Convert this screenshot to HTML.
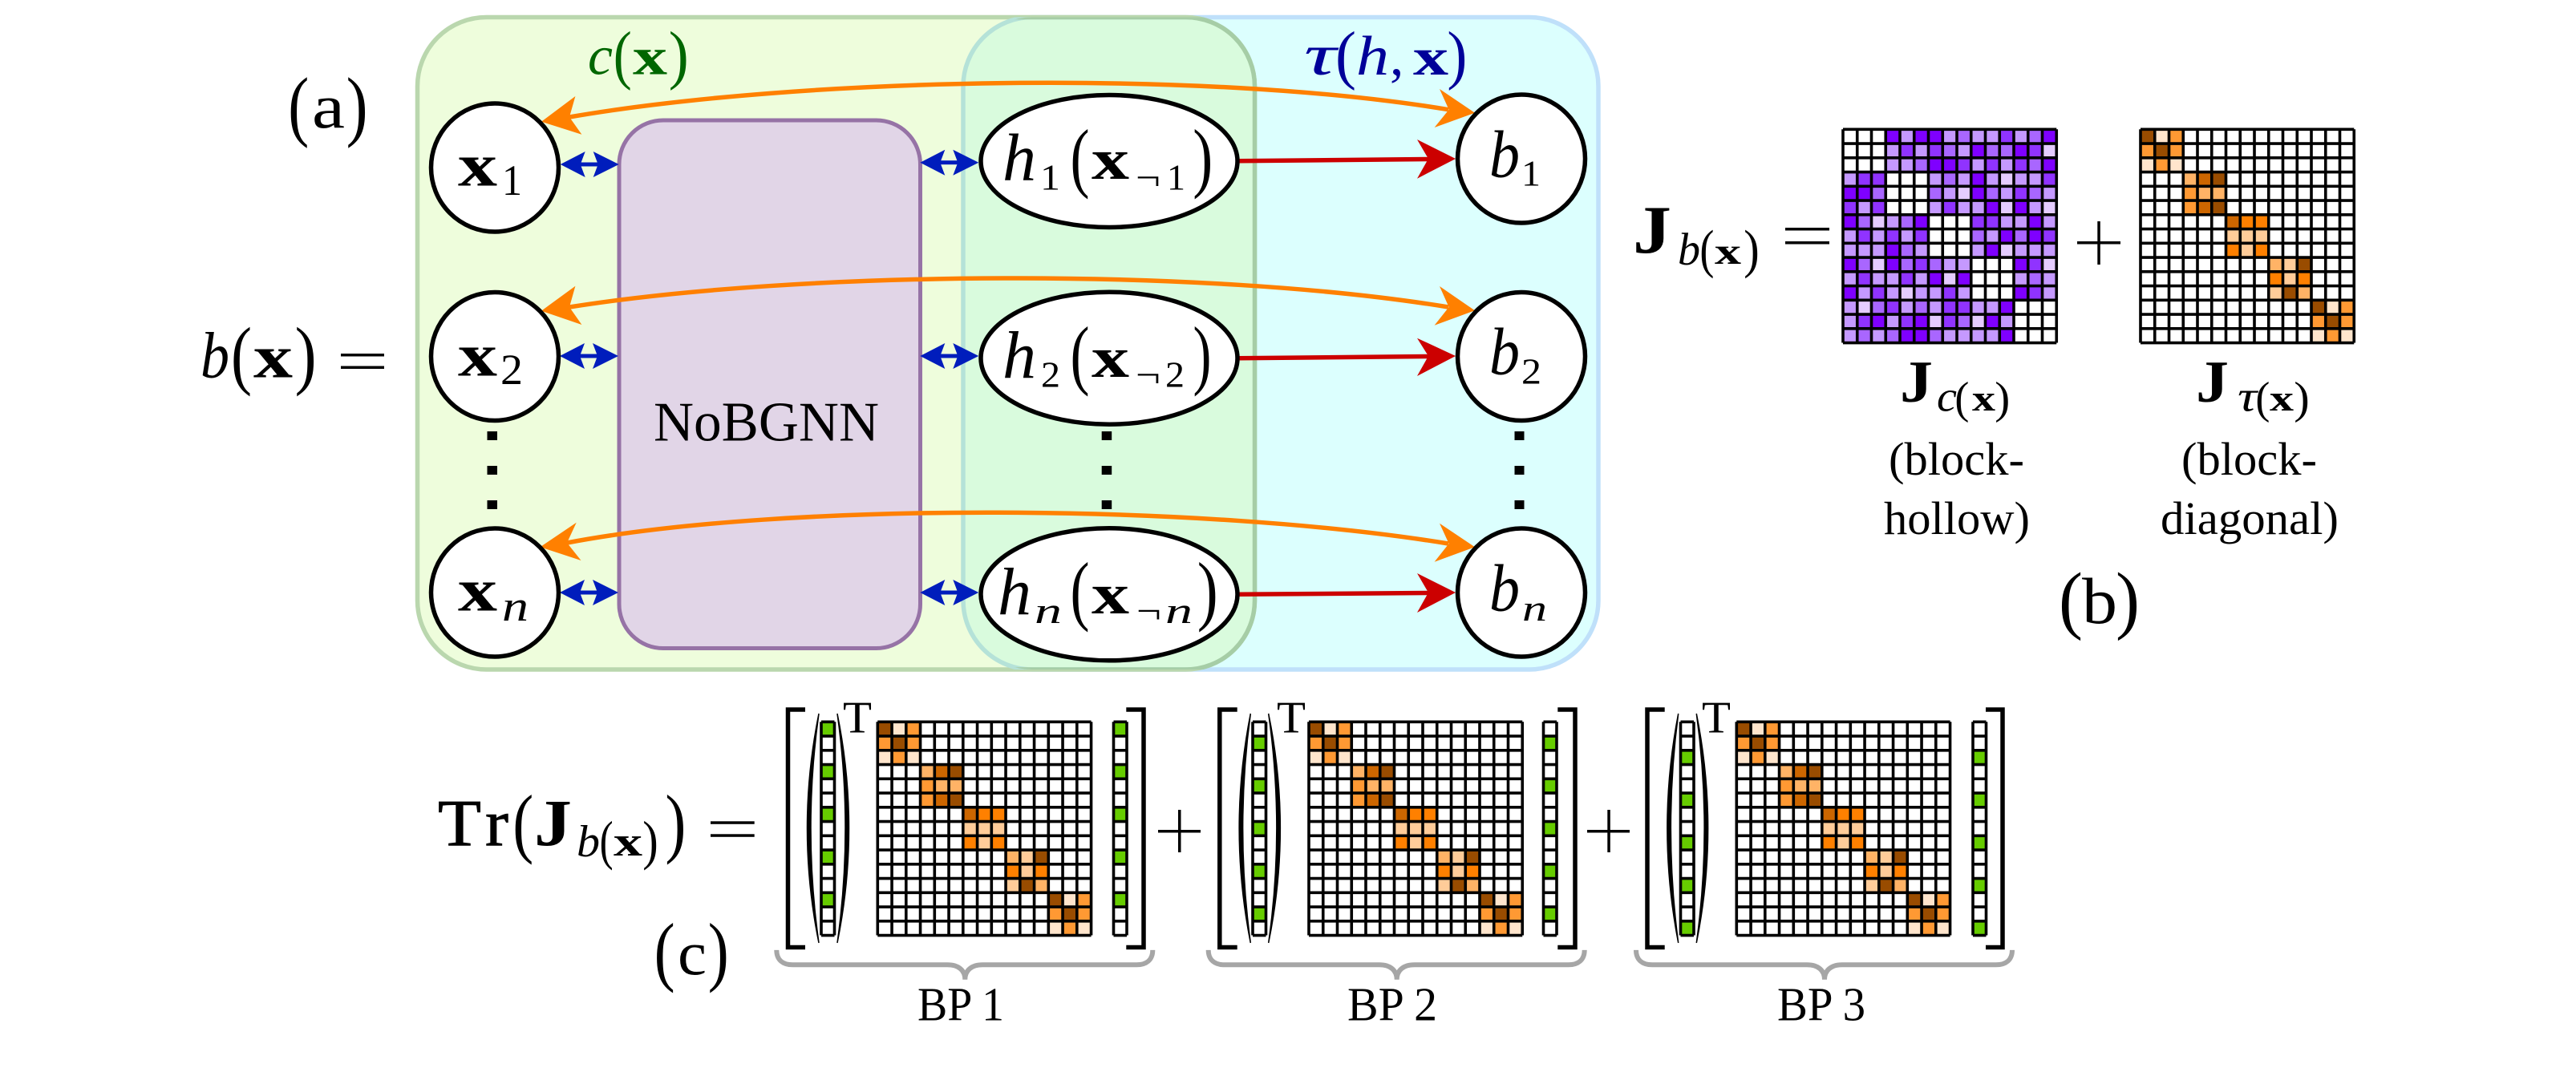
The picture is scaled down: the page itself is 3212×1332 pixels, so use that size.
<!DOCTYPE html>
<html>
<head>
<meta charset="utf-8">
<style>
html,body{margin:0;padding:0;background:#fff}
svg{display:block}
text{font-family:"Liberation Serif",serif;fill:#000}
.i{font-style:italic}
.b{font-weight:bold}
.h{stroke:#000;stroke-width:.9}
.g text{fill:#006600}
.t text{fill:#000099}
.cell rect{width:1px;height:1px}
.p1{fill:#7F00FF}.p2{fill:#9033FF}.p3{fill:#A966FF}.p4{fill:#C599FF}.p5{fill:#E5CCFF}
.A{fill:#994C00}.B{fill:#CC6600}.C{fill:#FF8000}.D{fill:#FF9933}.E{fill:#FFB366}.F{fill:#FFCC99}.G{fill:#FFE5CC}
.v{fill:#66CC00}
.gl{fill:none;stroke:#000;stroke-width:3.6;vector-effect:non-scaling-stroke}
</style>
</head>
<body>
<svg width="3212" height="1332" viewBox="0 0 3212 1332" xmlns="http://www.w3.org/2000/svg">
<defs>
<clipPath id="cb"><rect x="1201" y="21.5" width="792" height="813.5" rx="86"/></clipPath>
<clipPath id="cg"><rect x="520.5" y="21.5" width="1044" height="813.5" rx="86"/></clipPath>
<path id="grid" class="gl" d="M0 0H15M0 1H15M0 2H15M0 3H15M0 4H15M0 5H15M0 6H15M0 7H15M0 8H15M0 9H15M0 10H15M0 11H15M0 12H15M0 13H15M0 14H15M0 15H15M0 0V15M1 0V15M2 0V15M3 0V15M4 0V15M5 0V15M6 0V15M7 0V15M8 0V15M9 0V15M10 0V15M11 0V15M12 0V15M13 0V15M14 0V15M15 0V15"/>
<path id="vgrid" class="gl" d="M0 0H1M0 1H1M0 2H1M0 3H1M0 4H1M0 5H1M0 6H1M0 7H1M0 8H1M0 9H1M0 10H1M0 11H1M0 12H1M0 13H1M0 14H1M0 15H1M0 0V15M1 0V15"/>
<g id="om">
<g transform="scale(17.75)">
<rect width="15" height="15" fill="#fff"/>
<g class="cell">
<rect class="A" x="0" y="0"/><rect class="G" x="1" y="0"/><rect class="D" x="2" y="0"/>
<rect class="D" x="0" y="1"/><rect class="A" x="1" y="1"/><rect class="D" x="2" y="1"/>
<rect class="G" x="0" y="2"/><rect class="D" x="1" y="2"/><rect class="G" x="2" y="2"/>
<rect class="E" x="3" y="3"/><rect class="B" x="4" y="3"/><rect class="A" x="5" y="3"/>
<rect class="D" x="3" y="4"/><rect class="E" x="4" y="4"/><rect class="E" x="5" y="4"/>
<rect class="D" x="3" y="5"/><rect class="B" x="4" y="5"/><rect class="A" x="5" y="5"/>
<rect class="B" x="6" y="6"/><rect class="C" x="7" y="6"/><rect class="C" x="8" y="6"/>
<rect class="F" x="6" y="7"/><rect class="F" x="7" y="7"/><rect class="F" x="8" y="7"/>
<rect class="C" x="6" y="8"/><rect class="F" x="7" y="8"/><rect class="C" x="8" y="8"/>
<rect class="E" x="9" y="9"/><rect class="F" x="10" y="9"/><rect class="A" x="11" y="9"/>
<rect class="C" x="9" y="10"/><rect class="F" x="10" y="10"/><rect class="C" x="11" y="10"/>
<rect class="F" x="9" y="11"/><rect class="A" x="10" y="11"/><rect class="E" x="11" y="11"/>
<rect class="A" x="12" y="12"/><rect class="G" x="13" y="12"/><rect class="D" x="14" y="12"/>
<rect class="D" x="12" y="13"/><rect class="A" x="13" y="13"/><rect class="D" x="14" y="13"/>
<rect class="G" x="12" y="14"/><rect class="D" x="13" y="14"/><rect class="G" x="14" y="14"/>
</g>
<use href="#grid"/>
</g>
</g>
<g id="da" fill="#001DBC">
<polygon points="0,0 31,-16 25,0 31,16"/>
<polygon points="73,0 41,-16 47,0 41,16"/>
<rect x="20" y="-2.5" width="33" height="5"/>
</g>
<path id="brace" fill="none" stroke="#A6A6A6" stroke-width="6" d="M-235 -18.4C-235 -6 -227 0 -215 0H-22C-8 0 0 7 0 18.4C0 7 8 0 22 0H214C226 0 234 -6 234 -18.4"/>
</defs>

<!-- panel a background -->
<rect x="1201" y="21.5" width="792" height="813.5" rx="86" fill="#DCFFFE" stroke="#BFE0FA" stroke-width="5.5"/>
<rect x="520.5" y="21.5" width="1044" height="813.5" rx="86" fill="#EEFDDC" stroke="#BAD7AE" stroke-width="5.5"/>
<g clip-path="url(#cb)"><rect x="520.5" y="21.5" width="1044" height="813.5" rx="86" fill="#D9FBDD"/></g>
<g clip-path="url(#cg)"><rect x="1201" y="21.5" width="792" height="813.5" rx="86" fill="none" stroke="#B5E2D8" stroke-width="5.5"/></g>
<g clip-path="url(#cb)"><rect x="520.5" y="21.5" width="1044" height="813.5" rx="86" fill="none" stroke="#A6CDA6" stroke-width="5.5"/></g>

<!-- NoBGNN -->
<rect x="772" y="150" width="375.5" height="658.5" rx="55" fill="#E1D5E7" stroke="#9673A6" stroke-width="5"/>
<text x="815" y="549.3" font-size="70" textLength="281" lengthAdjust="spacingAndGlyphs">NoBGNN</text>

<!-- orange arrows -->
<g fill="none" stroke="#FF8000" stroke-width="5.5">
<path d="M710 146C1000 96 1500 86 1806 136.7"/>
<path d="M710 383C1000 337 1500 333 1806 383"/>
<path d="M707 677C980 625 1500 628 1806 678"/>
</g>
<g fill="#FF8000">
<polygon points="675,151.7 717.4,120 710,146 725.4,167.7"/>
<polygon points="1839,140.7 1795,111 1806.6,136.7 1788.6,159"/>
<polygon points="675,387.7 717.4,356.7 710,383 725.4,405"/>
<polygon points="1839,387.3 1795,357 1806.6,383 1788.6,405.7"/>
<polygon points="673.5,682.3 718.7,651.7 707,677 724.5,699"/>
<polygon points="1839,682.3 1795,652.7 1806.6,678 1788.6,700.7"/>
</g>

<!-- red arrows -->
<g stroke="#CC0000" stroke-width="5.5">
<line x1="1545" y1="200.7" x2="1785" y2="198.5"/>
<line x1="1545" y1="446.7" x2="1785" y2="444.5"/>
<line x1="1545" y1="741.3" x2="1785" y2="739.5"/>
</g>
<g fill="#CC0000">
<polygon points="1815,198 1767,174 1781,198 1767,222.7"/>
<polygon points="1815,444 1767,421.7 1781,444 1767,469"/>
<polygon points="1815,739 1767,715 1781,739 1767,764"/>
</g>

<!-- blue double arrows -->
<use href="#da" transform="translate(698.7,205)"/>
<use href="#da" transform="translate(698,444)"/>
<use href="#da" transform="translate(698,739)"/>
<use href="#da" transform="translate(1147.3,202.7)"/>
<use href="#da" transform="translate(1147.3,444)"/>
<use href="#da" transform="translate(1147.3,739)"/>

<!-- nodes -->
<g fill="#fff" stroke="#000" stroke-width="5.5">
<ellipse cx="617" cy="209" rx="79.5" ry="80"/>
<ellipse cx="617" cy="444.5" rx="79.5" ry="80"/>
<ellipse cx="617" cy="739" rx="79.5" ry="80"/>
<ellipse cx="1383" cy="201" rx="160" ry="82.5"/>
<ellipse cx="1383" cy="446.7" rx="160" ry="82.5"/>
<ellipse cx="1383" cy="741.3" rx="160" ry="82.5"/>
<ellipse cx="1897" cy="198" rx="79.5" ry="80"/>
<ellipse cx="1897" cy="444.5" rx="79.5" ry="80"/>
<ellipse cx="1897" cy="739" rx="79.5" ry="80"/>
</g>

<!-- dots -->
<g fill="#000">
<rect x="607.500" y="538" width="12.500" height="11"/><rect x="607.500" y="581" width="12.500" height="11"/><rect x="607.500" y="624" width="12.500" height="11"/>
<rect x="1373.700" y="538" width="12.500" height="11"/><rect x="1373.700" y="581" width="12.500" height="11"/><rect x="1373.700" y="624" width="12.500" height="11"/>
<rect x="1888.500" y="538" width="12" height="11"/><rect x="1888.500" y="581" width="12" height="11"/><rect x="1888.500" y="624" width="12" height="11"/>
</g>

<!-- node labels -->
<text class="b" x="571" y="231.700" font-size="76" textLength="49" lengthAdjust="spacingAndGlyphs">x</text>
<text x="626" y="243" font-size="54" textLength="25" lengthAdjust="spacingAndGlyphs">1</text>
<text class="b" x="571" y="468.300" font-size="76" textLength="49" lengthAdjust="spacingAndGlyphs">x</text>
<text x="624" y="479" font-size="54" textLength="28" lengthAdjust="spacingAndGlyphs">2</text>
<text class="b" x="571" y="761.700" font-size="76" textLength="49" lengthAdjust="spacingAndGlyphs">x</text>
<text class="i" x="626" y="774" font-size="54" textLength="33" lengthAdjust="spacingAndGlyphs">n</text>

<text class="i" x="1250" y="225" font-size="84" textLength="42" lengthAdjust="spacingAndGlyphs">h</text>
<text x="1297" y="236.700" font-size="46" textLength="25" lengthAdjust="spacingAndGlyphs">1</text>
<text x="1334.500" y="228" font-size="96" textLength="24" lengthAdjust="spacingAndGlyphs">(</text>
<text class="b" x="1361" y="223" font-size="72" textLength="47" lengthAdjust="spacingAndGlyphs">x</text>
<text x="1416" y="236.700" font-size="46" textLength="31" lengthAdjust="spacingAndGlyphs">¬</text>
<text x="1455" y="236.700" font-size="46" textLength="23" lengthAdjust="spacingAndGlyphs">1</text>
<text x="1487.300" y="228" font-size="96" textLength="25" lengthAdjust="spacingAndGlyphs">)</text>

<text class="i" x="1250" y="471.700" font-size="84" textLength="42" lengthAdjust="spacingAndGlyphs">h</text>
<text x="1298" y="482.700" font-size="46" textLength="24" lengthAdjust="spacingAndGlyphs">2</text>
<text x="1334.500" y="474" font-size="96" textLength="24" lengthAdjust="spacingAndGlyphs">(</text>
<text class="b" x="1361" y="470" font-size="72" textLength="47" lengthAdjust="spacingAndGlyphs">x</text>
<text x="1416" y="482.700" font-size="46" textLength="31" lengthAdjust="spacingAndGlyphs">¬</text>
<text x="1453" y="482.700" font-size="46" textLength="24" lengthAdjust="spacingAndGlyphs">2</text>
<text x="1487.500" y="474" font-size="96" textLength="23" lengthAdjust="spacingAndGlyphs">)</text>

<text class="i" x="1244" y="766.700" font-size="84" textLength="42" lengthAdjust="spacingAndGlyphs">h</text>
<text class="i" x="1290" y="777" font-size="46" textLength="34" lengthAdjust="spacingAndGlyphs">n</text>
<text x="1334.500" y="768" font-size="96" textLength="24" lengthAdjust="spacingAndGlyphs">(</text>
<text class="b" x="1361" y="765" font-size="72" textLength="47" lengthAdjust="spacingAndGlyphs">x</text>
<text x="1417" y="777" font-size="46" textLength="31" lengthAdjust="spacingAndGlyphs">¬</text>
<text class="i" x="1453" y="777" font-size="46" textLength="34" lengthAdjust="spacingAndGlyphs">n</text>
<text x="1492.700" y="768" font-size="96" textLength="26" lengthAdjust="spacingAndGlyphs">)</text>

<text class="i" x="1857" y="220.700" font-size="84" textLength="38" lengthAdjust="spacingAndGlyphs">b</text>
<text x="1897" y="231.700" font-size="46" textLength="24" lengthAdjust="spacingAndGlyphs">1</text>
<text class="i" x="1857" y="466.700" font-size="84" textLength="38" lengthAdjust="spacingAndGlyphs">b</text>
<text x="1897" y="478.700" font-size="46" textLength="25" lengthAdjust="spacingAndGlyphs">2</text>
<text class="i" x="1857" y="761.700" font-size="84" textLength="38" lengthAdjust="spacingAndGlyphs">b</text>
<text class="i" x="1898" y="774" font-size="46" textLength="31" lengthAdjust="spacingAndGlyphs">n</text>

<!-- set labels -->
<g class="g">
<text class="i" x="733" y="92.700" font-size="69" textLength="31" lengthAdjust="spacingAndGlyphs">c</text>
<text x="764.700" y="95.500" font-size="82" textLength="23" lengthAdjust="spacingAndGlyphs">(</text>
<text class="b" x="789" y="92.700" font-size="66" textLength="43" lengthAdjust="spacingAndGlyphs">x</text>
<text x="833.800" y="95.500" font-size="82" textLength="25" lengthAdjust="spacingAndGlyphs">)</text>
</g>
<g class="t">
<text class="i" x="1626" y="93" font-size="72" textLength="40" lengthAdjust="spacingAndGlyphs">τ</text>
<text x="1665" y="95.500" font-size="82" textLength="26" lengthAdjust="spacingAndGlyphs">(</text>
<text class="i" x="1691" y="93" font-size="70" textLength="41" lengthAdjust="spacingAndGlyphs">h</text>
<text x="1733" y="93" font-size="69">,</text>
<text class="b" x="1762" y="93" font-size="66" textLength="44" lengthAdjust="spacingAndGlyphs">x</text>
<text x="1804.400" y="95.500" font-size="82" textLength="25" lengthAdjust="spacingAndGlyphs">)</text>
</g>

<!-- (a) and b(x) = -->
<text x="359.300" y="164" font-size="97" textLength="26" lengthAdjust="spacingAndGlyphs">(</text>
<text x="389" y="159" font-size="78" textLength="41" lengthAdjust="spacingAndGlyphs">a</text>
<text x="431.600" y="164" font-size="97" textLength="27" lengthAdjust="spacingAndGlyphs">)</text>
<text class="i" x="250" y="470.700" font-size="82" textLength="36" lengthAdjust="spacingAndGlyphs">b</text>
<text x="288" y="474" font-size="95" textLength="26" lengthAdjust="spacingAndGlyphs">(</text>
<text class="b" x="316" y="470.700" font-size="76" textLength="49" lengthAdjust="spacingAndGlyphs">x</text>
<text x="367.600" y="474" font-size="95" textLength="27" lengthAdjust="spacingAndGlyphs">)</text>
<rect x="425" y="441" width="54" height="3.500"/><rect x="425" y="456.500" width="54" height="3.500"/>

<!-- panel b -->
<text class="b" x="2036" y="315" font-size="85" textLength="48" lengthAdjust="spacingAndGlyphs">J</text>
<text class="i" x="2092" y="330" font-size="57" textLength="28" lengthAdjust="spacingAndGlyphs">b</text>
<text x="2119.400" y="332.800" font-size="67" textLength="18" lengthAdjust="spacingAndGlyphs">(</text>
<text class="b" x="2138" y="329" font-size="47" textLength="33" lengthAdjust="spacingAndGlyphs">x</text>
<text x="2174.300" y="332.800" font-size="67" textLength="19.500" lengthAdjust="spacingAndGlyphs">)</text>
<rect x="2226" y="284" width="55" height="3.500"/><rect x="2226" y="301" width="55" height="3.500"/>

<g transform="translate(2298,161.300) scale(17.75)">
<rect width="15" height="15" fill="#fff"/>
<g class="cell">
<rect class="p1" x="3" y="0"/><rect class="p4" x="4" y="0"/><rect class="p1" x="5" y="0"/><rect class="p1" x="6" y="0"/><rect class="p4" x="7" y="0"/><rect class="p3" x="8" y="0"/><rect class="p4" x="9" y="0"/><rect class="p4" x="10" y="0"/><rect class="p2" x="11" y="0"/><rect class="p4" x="12" y="0"/><rect class="p3" x="13" y="0"/><rect class="p1" x="14" y="0"/>
<rect class="p4" x="3" y="1"/><rect class="p2" x="4" y="1"/><rect class="p4" x="5" y="1"/><rect class="p2" x="6" y="1"/><rect class="p3" x="7" y="1"/><rect class="p4" x="8" y="1"/><rect class="p1" x="9" y="1"/><rect class="p3" x="10" y="1"/><rect class="p3" x="11" y="1"/><rect class="p1" x="12" y="1"/><rect class="p2" x="13" y="1"/><rect class="p5" x="14" y="1"/>
<rect class="p4" x="3" y="2"/><rect class="p4" x="4" y="2"/><rect class="p3" x="5" y="2"/><rect class="p1" x="6" y="2"/><rect class="p1" x="7" y="2"/><rect class="p2" x="8" y="2"/><rect class="p4" x="9" y="2"/><rect class="p2" x="10" y="2"/><rect class="p4" x="11" y="2"/><rect class="p2" x="12" y="2"/><rect class="p3" x="13" y="2"/><rect class="p1" x="14" y="2"/>
<rect class="p4" x="0" y="3"/><rect class="p2" x="1" y="3"/><rect class="p2" x="2" y="3"/><rect class="p4" x="6" y="3"/><rect class="p3" x="7" y="3"/><rect class="p4" x="8" y="3"/><rect class="p1" x="9" y="3"/><rect class="p4" x="10" y="3"/><rect class="p5" x="11" y="3"/><rect class="p4" x="12" y="3"/><rect class="p4" x="13" y="3"/><rect class="p2" x="14" y="3"/>
<rect class="p1" x="0" y="4"/><rect class="p1" x="1" y="4"/><rect class="p3" x="2" y="4"/><rect class="p3" x="6" y="4"/><rect class="p4" x="7" y="4"/><rect class="p5" x="8" y="4"/><rect class="p1" x="9" y="4"/><rect class="p3" x="10" y="4"/><rect class="p4" x="11" y="4"/><rect class="p2" x="12" y="4"/><rect class="p3" x="13" y="4"/><rect class="p4" x="14" y="4"/>
<rect class="p2" x="0" y="5"/><rect class="p4" x="1" y="5"/><rect class="p2" x="2" y="5"/><rect class="p4" x="6" y="5"/><rect class="p2" x="7" y="5"/><rect class="p4" x="8" y="5"/><rect class="p4" x="9" y="5"/><rect class="p1" x="10" y="5"/><rect class="p5" x="11" y="5"/><rect class="p1" x="12" y="5"/><rect class="p4" x="13" y="5"/><rect class="p5" x="14" y="5"/>
<rect class="p1" x="0" y="6"/><rect class="p3" x="1" y="6"/><rect class="p5" x="2" y="6"/><rect class="p4" x="3" y="6"/><rect class="p3" x="4" y="6"/><rect class="p1" x="5" y="6"/><rect class="p2" x="9" y="6"/><rect class="p2" x="10" y="6"/><rect class="p4" x="11" y="6"/><rect class="p4" x="12" y="6"/><rect class="p1" x="13" y="6"/><rect class="p4" x="14" y="6"/>
<rect class="p4" x="0" y="7"/><rect class="p2" x="1" y="7"/><rect class="p4" x="2" y="7"/><rect class="p2" x="3" y="7"/><rect class="p4" x="4" y="7"/><rect class="p2" x="5" y="7"/><rect class="p3" x="9" y="7"/><rect class="p4" x="10" y="7"/><rect class="p1" x="11" y="7"/><rect class="p3" x="12" y="7"/><rect class="p1" x="13" y="7"/><rect class="p2" x="14" y="7"/>
<rect class="p4" x="0" y="8"/><rect class="p4" x="1" y="8"/><rect class="p4" x="2" y="8"/><rect class="p1" x="3" y="8"/><rect class="p3" x="4" y="8"/><rect class="p4" x="5" y="8"/><rect class="p4" x="9" y="8"/><rect class="p1" x="10" y="8"/><rect class="p5" x="11" y="8"/><rect class="p4" x="12" y="8"/><rect class="p4" x="13" y="8"/><rect class="p4" x="14" y="8"/>
<rect class="p1" x="0" y="9"/><rect class="p3" x="1" y="9"/><rect class="p5" x="2" y="9"/><rect class="p1" x="3" y="9"/><rect class="p3" x="4" y="9"/><rect class="p2" x="5" y="9"/><rect class="p3" x="6" y="9"/><rect class="p4" x="7" y="9"/><rect class="p4" x="8" y="9"/><rect class="p1" x="12" y="9"/><rect class="p2" x="13" y="9"/><rect class="p5" x="14" y="9"/>
<rect class="p4" x="0" y="10"/><rect class="p2" x="1" y="10"/><rect class="p4" x="2" y="10"/><rect class="p4" x="3" y="10"/><rect class="p2" x="4" y="10"/><rect class="p4" x="5" y="10"/><rect class="p1" x="6" y="10"/><rect class="p5" x="7" y="10"/><rect class="p1" x="8" y="10"/><rect class="p4" x="12" y="10"/><rect class="p3" x="13" y="10"/><rect class="p4" x="14" y="10"/>
<rect class="p1" x="0" y="11"/><rect class="p4" x="1" y="11"/><rect class="p2" x="2" y="11"/><rect class="p4" x="3" y="11"/><rect class="p5" x="4" y="11"/><rect class="p4" x="5" y="11"/><rect class="p4" x="6" y="11"/><rect class="p2" x="7" y="11"/><rect class="p4" x="8" y="11"/><rect class="p1" x="12" y="11"/><rect class="p2" x="13" y="11"/><rect class="p4" x="14" y="11"/>
<rect class="p4" x="0" y="12"/><rect class="p5" x="1" y="12"/><rect class="p3" x="2" y="12"/><rect class="p2" x="3" y="12"/><rect class="p4" x="4" y="12"/><rect class="p3" x="5" y="12"/><rect class="p4" x="6" y="12"/><rect class="p2" x="7" y="12"/><rect class="p2" x="8" y="12"/><rect class="p4" x="9" y="12"/><rect class="p4" x="10" y="12"/><rect class="p1" x="11" y="12"/>
<rect class="p4" x="0" y="13"/><rect class="p2" x="1" y="13"/><rect class="p1" x="2" y="13"/><rect class="p4" x="3" y="13"/><rect class="p2" x="4" y="13"/><rect class="p1" x="5" y="13"/><rect class="p5" x="6" y="13"/><rect class="p2" x="7" y="13"/><rect class="p3" x="8" y="13"/><rect class="p5" x="9" y="13"/><rect class="p1" x="10" y="13"/><rect class="p4" x="11" y="13"/>
<rect class="p4" x="0" y="14"/><rect class="p3" x="1" y="14"/><rect class="p4" x="2" y="14"/><rect class="p3" x="3" y="14"/><rect class="p1" x="4" y="14"/><rect class="p1" x="5" y="14"/><rect class="p3" x="6" y="14"/><rect class="p4" x="7" y="14"/><rect class="p4" x="8" y="14"/><rect class="p4" x="9" y="14"/><rect class="p4" x="10" y="14"/><rect class="p1" x="11" y="14"/>
</g>
<use href="#grid"/>
</g>

<rect x="2590" y="301" width="54" height="3.500"/><rect x="2615.300" y="276" width="3.500" height="54"/>
<use href="#om" transform="translate(2669,161.300)"/>

<text class="b" x="2369" y="501" font-size="74" textLength="41" lengthAdjust="spacingAndGlyphs">J</text>
<text class="i" x="2415" y="512.500" font-size="54" textLength="25" lengthAdjust="spacingAndGlyphs">c</text>
<text x="2437.400" y="515" font-size="56" textLength="18" lengthAdjust="spacingAndGlyphs">(</text>
<text class="b" x="2459" y="512" font-size="46" textLength="29" lengthAdjust="spacingAndGlyphs">x</text>
<text x="2487.300" y="515" font-size="56" textLength="19" lengthAdjust="spacingAndGlyphs">)</text>
<text class="b" x="2738" y="501" font-size="74" textLength="41" lengthAdjust="spacingAndGlyphs">J</text>
<text class="i" x="2790" y="512.500" font-size="54" textLength="24" lengthAdjust="spacingAndGlyphs">τ</text>
<text x="2812.400" y="515" font-size="56" textLength="18" lengthAdjust="spacingAndGlyphs">(</text>
<text class="b" x="2830" y="512" font-size="46" textLength="30" lengthAdjust="spacingAndGlyphs">x</text>
<text x="2860.300" y="515" font-size="56" textLength="19.500" lengthAdjust="spacingAndGlyphs">)</text>

<text x="2355" y="591.800" font-size="58" textLength="169" lengthAdjust="spacingAndGlyphs">(block-</text>
<text x="2349" y="666" font-size="58" textLength="182" lengthAdjust="spacingAndGlyphs">hollow)</text>
<text x="2720" y="591.800" font-size="58" textLength="169" lengthAdjust="spacingAndGlyphs">(block-</text>
<text x="2694" y="666" font-size="58" textLength="222" lengthAdjust="spacingAndGlyphs">diagonal)</text>

<text x="2567" y="779" font-size="94" textLength="30" lengthAdjust="spacingAndGlyphs">(</text>
<text x="2596" y="776.800" font-size="82" textLength="44" lengthAdjust="spacingAndGlyphs">b</text>
<text x="2638" y="779" font-size="94" textLength="30" lengthAdjust="spacingAndGlyphs">)</text>

<!-- panel c -->
<text class="h" x="546" y="1054" font-size="83" textLength="54" lengthAdjust="spacingAndGlyphs">T</text>
<text class="h" x="605" y="1054" font-size="83" textLength="29" lengthAdjust="spacingAndGlyphs">r</text>
<text x="639.300" y="1058" font-size="96" textLength="26" lengthAdjust="spacingAndGlyphs">(</text>
<text class="b" x="666" y="1054" font-size="83" textLength="47" lengthAdjust="spacingAndGlyphs">J</text>
<text class="i" x="719" y="1068" font-size="56" textLength="29" lengthAdjust="spacingAndGlyphs">b</text>
<text x="747.600" y="1071" font-size="68" textLength="17" lengthAdjust="spacingAndGlyphs">(</text>
<text class="b" x="765" y="1067" font-size="52" textLength="36" lengthAdjust="spacingAndGlyphs">x</text>
<text x="801.300" y="1071" font-size="68" textLength="19.500" lengthAdjust="spacingAndGlyphs">)</text>
<text x="829.400" y="1058" font-size="96" textLength="26" lengthAdjust="spacingAndGlyphs">)</text>
<rect x="886" y="1024.300" width="54.700" height="3.500"/><rect x="886" y="1040.300" width="54.700" height="3.500"/>

<text x="815.600" y="1218" font-size="96" textLength="26" lengthAdjust="spacingAndGlyphs">(</text>
<text x="845" y="1215" font-size="78" textLength="36" lengthAdjust="spacingAndGlyphs">c</text>
<text x="882.700" y="1218" font-size="96" textLength="26" lengthAdjust="spacingAndGlyphs">)</text>

<!-- BP 1 -->
<path d="M1004 885H982.500V1181.500H1004M1404.300 885H1426V1181.500H1404.300" fill="none" stroke="#000" stroke-width="5.500"/>
<path d="M1021 890Q992 1033 1021 1176Q1001 1033 1021 890ZM1044 890Q1073 1033 1044 1176Q1064 1033 1044 890Z" fill="#000" stroke="#000" stroke-width="1.500"/>
<g transform="translate(1024,900.300) scale(16.500,17.750)"><rect width="1" height="15" fill="#fff"/><g class="cell v"><rect y="0"/><rect y="3"/><rect y="6"/><rect y="9"/><rect y="12"/></g><use href="#vgrid"/></g>
<text x="1051" y="913.500" font-size="56" textLength="36" lengthAdjust="spacingAndGlyphs">T</text>
<use href="#om" transform="translate(1094.300,900.300)"/>
<g transform="translate(1388.500,900.300) scale(16.500,17.750)"><rect width="1" height="15" fill="#fff"/><g class="cell v"><rect y="0"/><rect y="3"/><rect y="6"/><rect y="9"/><rect y="12"/></g><use href="#vgrid"/></g>
<use href="#brace" transform="translate(1203.300,1203.300)"/>
<text x="1144" y="1272.300" font-size="59" textLength="108" lengthAdjust="spacingAndGlyphs">BP 1</text>

<rect x="1444" y="1035" width="53" height="3.500"/><rect x="1469" y="1010" width="3.500" height="53"/>

<!-- BP 2 -->
<path d="M1542.700 885H1520.800V1181.500H1542.700M1942.300 885H1964V1181.500H1942.300" fill="none" stroke="#000" stroke-width="5.500"/>
<path d="M1559.300 890Q1531 1033 1559.300 1176Q1540 1033 1559.300 890ZM1581.700 890Q1611 1033 1581.700 1176Q1602 1033 1581.700 890Z" fill="#000" stroke="#000" stroke-width="1.500"/>
<g transform="translate(1562,900.300) scale(16.500,17.750)"><rect width="1" height="15" fill="#fff"/><g class="cell v"><rect y="1"/><rect y="4"/><rect y="7"/><rect y="10"/><rect y="13"/></g><use href="#vgrid"/></g>
<text x="1592" y="913.500" font-size="56" textLength="36" lengthAdjust="spacingAndGlyphs">T</text>
<use href="#om" transform="translate(1632,900.300)"/>
<g transform="translate(1924.500,900.300) scale(16.500,17.750)"><rect width="1" height="15" fill="#fff"/><g class="cell v"><rect y="1"/><rect y="4"/><rect y="7"/><rect y="10"/><rect y="13"/></g><use href="#vgrid"/></g>
<use href="#brace" transform="translate(1741.700,1203.300)"/>
<text x="1680" y="1272.300" font-size="59" textLength="112" lengthAdjust="spacingAndGlyphs">BP 2</text>

<rect x="1979" y="1035" width="53" height="3.500"/><rect x="2004.300" y="1010" width="3.500" height="53"/>

<!-- BP 3 -->
<path d="M2075.700 885H2054V1181.500H2075.700M2476 885H2497V1181.500H2476" fill="none" stroke="#000" stroke-width="5.500"/>
<path d="M2092.700 890Q2065 1033 2092.700 1176Q2074 1033 2092.700 890ZM2115.300 890Q2144 1033 2115.300 1176Q2135 1033 2115.300 890Z" fill="#000" stroke="#000" stroke-width="1.500"/>
<g transform="translate(2095.500,900.300) scale(16.500,17.750)"><rect width="1" height="15" fill="#fff"/><g class="cell v"><rect y="2"/><rect y="5"/><rect y="8"/><rect y="11"/><rect y="14"/></g><use href="#vgrid"/></g>
<text x="2122" y="913.500" font-size="56" textLength="36" lengthAdjust="spacingAndGlyphs">T</text>
<use href="#om" transform="translate(2165.300,900.300)"/>
<g transform="translate(2460,900.300) scale(16.500,17.750)"><rect width="1" height="15" fill="#fff"/><g class="cell v"><rect y="2"/><rect y="5"/><rect y="8"/><rect y="11"/><rect y="14"/></g><use href="#vgrid"/></g>
<use href="#brace" transform="translate(2275,1203.300)"/>
<text x="2216" y="1272.300" font-size="59" textLength="110" lengthAdjust="spacingAndGlyphs">BP 3</text>
</svg>
</body>
</html>
